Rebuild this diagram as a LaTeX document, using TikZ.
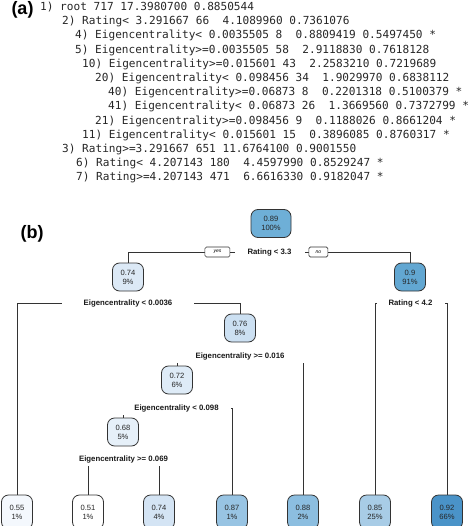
\documentclass[tikz,border=0pt]{standalone}
\usepackage{fontspec}
\newfontfamily\treefont{Liberation Sans}
\newfontfamily\codefont{DejaVu Sans Mono}
\usepackage{tikz}
\usetikzlibrary{backgrounds}
\definecolor{fillA}{RGB}{110,175,215}   % 0.89
\definecolor{fillB}{RGB}{98,167,210}    % 0.9
\definecolor{fillC}{RGB}{74,147,200}    % 0.92
\definecolor{fillD}{RGB}{168,204,230}   % 0.85
\definecolor{fillE}{RGB}{140,190,224}   % 0.88
\definecolor{fillF}{RGB}{152,196,227}   % 0.87
\definecolor{fillG}{RGB}{212,228,244}   % 0.74 leaf
\definecolor{fillH}{RGB}{220,233,246}   % 0.74
\definecolor{fillI}{RGB}{204,224,242}   % 0.76
\definecolor{fillJ}{RGB}{222,235,247}   % 0.72
\definecolor{fillK}{RGB}{230,240,249}   % 0.68
\definecolor{fillL}{RGB}{244,248,253}   % 0.55

\begin{document}
\begin{tikzpicture}[
    x=1pt, y=-1pt,
    panel/.style={inner sep=0pt, font=\treefont\fontsize{18}{20}\selectfont\bfseries},
    codeline/.style={anchor=west, inner sep=0pt, text=black!85,
                     font=\codefont\fontsize{11.1}{13}\selectfont},
    treenode/.style={rectangle, rounded corners=7pt, draw=black!80, line width=0.8pt,
                     minimum width=31pt, minimum height=28pt, inner sep=1pt,
                     align=center, text=black!85,
                     font=\treefont\fontsize{7.6}{9}\selectfont},
    leaf/.style={treenode, minimum height=34pt},
    split/.style={fill=white, inner ysep=3.5pt, text=black!90,
                  font=\treefont\fontsize{7.8}{9}\selectfont\bfseries},
    yesno/.style={draw=black!80, fill=white, rounded corners=1.5pt, line width=0.6pt,
                  minimum height=10pt, inner sep=1pt,
                  font=\treefont\fontsize{5}{6}\selectfont\itshape},
    branch/.style={draw=black!80, line width=0.9pt}
]
\useasboundingbox (0,0) rectangle (474,526);
\clip (0,0) rectangle (474,526);

% (a) printed tree
\node[panel] (pa) at (22.5,9.5) {(a)};
\node[codeline] (r1)  at (40,7.5)   {1) root 717 17.3980700 0.8850544};
\node[codeline] (r2)  at (62,21.7)  {2) Rating< 3.291667 66~ 4.1089960 0.7361076};
\node[codeline] (r4)  at (75,35.9)  {4) Eigencentrality< 0.0035505 8~ 0.8809419 0.5497450 *};
\node[codeline] (r5)  at (75,50.1)  {5) Eigencentrality>=0.0035505 58~ 2.9118830 0.7618128};
\node[codeline] (r10) at (82,64.3)  {10) Eigencentrality>=0.015601 43~ 2.2583210 0.7219689};
\node[codeline] (r20) at (95,78.5)  {20) Eigencentrality< 0.098456 34~ 1.9029970 0.6838112};
\node[codeline] (r40) at (108,92.7) {40) Eigencentrality>=0.06873 8~ 0.2201318 0.5100379 *};
\node[codeline] (r41) at (108,106.9) {41) Eigencentrality< 0.06873 26~ 1.3669560 0.7372799 *};
\node[codeline] (r21) at (95,121.1) {21) Eigencentrality>=0.098456 9~ 0.1188026 0.8661204 *};
\node[codeline] (r11) at (82,135.3) {11) Eigencentrality< 0.015601 15~ 0.3896085 0.8760317 *};
\node[codeline] (r3)  at (62,149.5) {3) Rating>=3.291667 651 11.6764100 0.9001550};
\node[codeline] (r6)  at (76,163.7) {6) Rating< 4.207143 180~ 4.4597990 0.8529247 *};
\node[codeline] (r7)  at (76,177.9) {7) Rating>=4.207143 471~ 6.6616330 0.9182047 *};

% (b) tree plot
\node[panel] (pb) at (32,234) {(b)};
\node[treenode, fill=fillA, minimum width=40pt] (n1) at (271,223.5) {0.89\\100\%};
\node[split, inner xsep=13pt] (s1) at (269.5,252) {Rating < 3.3};
\node[treenode, fill=fillH] (n2) at (128,277) {0.74\\9\%};
\node[treenode, fill=fillB] (n3) at (410,277) {0.9\\91\%};
\node[split, inner xsep=22pt] (s2) at (128,303) {Eigencentrality < 0.0036};
\node[split, inner xsep=12pt] (s3) at (410.5,303) {Rating < 4.2};
\node[treenode, fill=fillI] (n5) at (240,328) {0.76\\8\%};
\node[split, inner xsep=20pt] (s5) at (240,356) {Eigencentrality >= 0.016};
\node[treenode, fill=fillJ] (n10) at (177,380) {0.72\\6\%};
\node[split, inner xsep=12pt] (s10) at (176.5,408) {Eigencentrality < 0.098};
\node[treenode, fill=fillK] (n20) at (123,432) {0.68\\5\%};
\node[split, inner xsep=4pt] (s20) at (123.5,459) {Eigencentrality >= 0.069};
% leaves
\node[leaf, fill=fillL] (n4)  at (17,512)  {0.55\\1\%};
\node[leaf, fill=white] (n40) at (88,512)  {0.51\\1\%};
\node[leaf, fill=fillG] (n41) at (159,512) {0.74\\4\%};
\node[leaf, fill=fillF] (n21) at (232,512) {0.87\\1\%};
\node[leaf, fill=fillE] (n11) at (303,512) {0.88\\2\%};
\node[leaf, fill=fillD] (n6)  at (375,512) {0.85\\25\%};
\node[leaf, fill=fillC] (n7)  at (447,512) {0.92\\66\%};

\begin{scope}[on background layer]
\draw[branch] (s1.center) -| node[yesno, minimum width=25pt, pos=0.184] {yes} (n2);
\draw[branch] (s1.center) -| node[yesno, minimum width=19pt, pos=0.174] {no} (n3);
\draw[branch] (s2.center) -| (n4);
\draw[branch] (s2.center) -| (n5);
\draw[branch] (s3.center) -| (n6);
\draw[branch] (s3.center) -| (n7);
\draw[branch] (s5.center) -| (n10);
\draw[branch] (s5.center) -| (n11);
\draw[branch] (s10.center) -| (n20);
\draw[branch] (s10.center) -| (n21);
\draw[branch] (s20.center) -| (n40);
\draw[branch] (s20.center) -| (n41);
\end{scope}
\end{tikzpicture}
\end{document}
